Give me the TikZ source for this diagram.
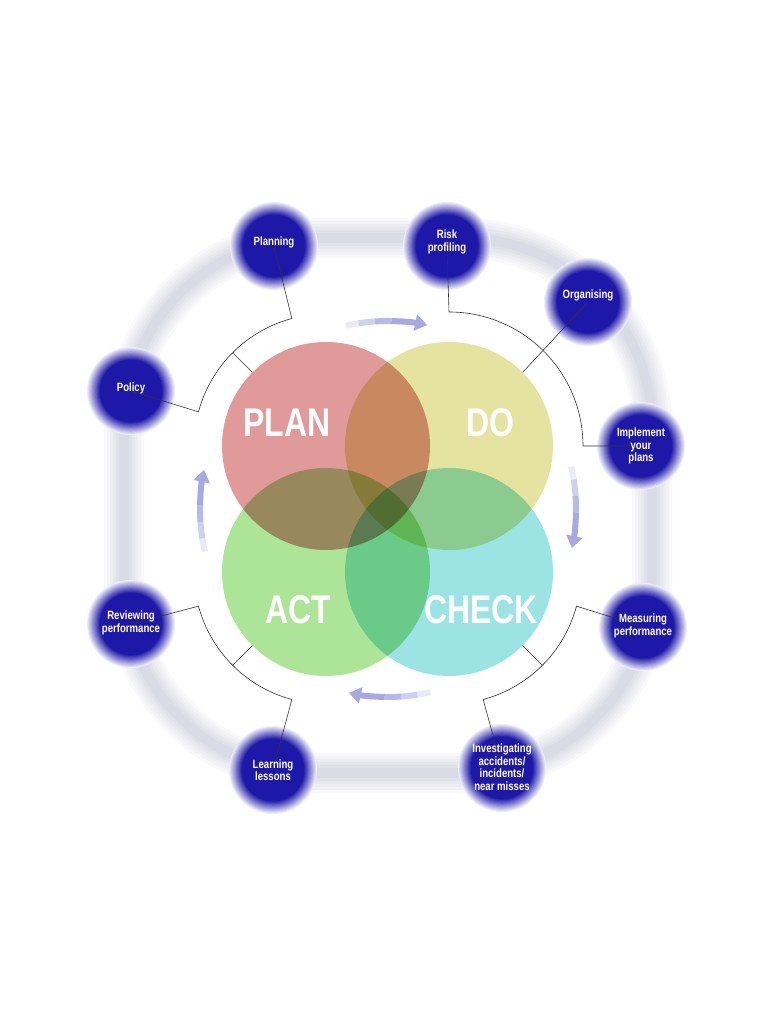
\documentclass[tikz,border=0pt]{standalone}
\usepackage{fontspec}
\setmainfont{Liberation Sans}
\newfontfamily\cond[FakeStretch=0.8]{Liberation Sans}
\usetikzlibrary{calc,arrows.meta}
\definecolor{bdark}{RGB}{28,22,168}
\definecolor{cplan}{RGB}{224,154,154}
\definecolor{cdo}{RGB}{228,228,160}
\definecolor{cact}{RGB}{172,228,152}
\definecolor{ccheck}{RGB}{156,228,228}
\definecolor{ring}{RGB}{205,205,220}
\definecolor{arr}{RGB}{168,168,228}
\tikzset{
  bubble/.style={circle,minimum size=86pt,inner sep=0pt,text=white,font=\cond\bfseries\fontsize{12}{12.5}\selectfont,align=center},
  big/.style={text=white,font=\cond\bfseries\fontsize{40}{40}\selectfont},
  conn/.style={draw=black!80,line width=0.6pt},
  cyc/.style={draw=arr,line width=6pt}
}
\begin{document}
\begin{tikzpicture}[x=1pt,y=1pt]
\useasboundingbox (0,0) rectangle (768,1024);
\fill[white] (0,0) rectangle (768,1024);
% ring
\foreach \w/\o in {40/0.1,34/0.12,28/0.15,22/0.18,16/0.2,10/0.25}{
  \draw[ring,line width=\w pt,opacity=\o,rounded corners=190pt] (124,251) rectangle (652,786);}
% circles
\coordinate (P) at (326,578);
\coordinate (D) at (449,578);
\coordinate (A) at (326,452);
\coordinate (C) at (449,452);
\begin{scope}[blend group=multiply]
\fill[cplan] (P) circle[radius=104];
\fill[cdo] (D) circle[radius=104];
\fill[cact] (A) circle[radius=104];
\fill[ccheck] (C) circle[radius=104];
\end{scope}
\node[big] (tplan) at (287,601) {PLAN};
\node[big] (tdo) at (490,601) {DO};
\node[big] (tact) at (298,414) {ACT};
\node[big] (tcheck) at (481,414) {CHECK};
% cycle arrows (fading tails)
\coordinate (O) at (388,515);
\foreach \s in {90,0,-90,180}{
  \draw[draw=arr!25!white,line width=6pt] ($(O)+(\s+13:188)$) arc[start angle=\s+13,end angle=\s+9,radius=188];
  \draw[draw=arr!55!white,line width=6pt] ($(O)+(\s+9:188)$) arc[start angle=\s+9,end angle=\s+4,radius=188];
  \draw[draw=arr!80!white,line width=6pt] ($(O)+(\s+4:188)$) arc[start angle=\s+4,end angle=\s-1,radius=188];
  \draw[cyc,-{Triangle[length=12pt,width=16pt]}] ($(O)+(\s-1:188)$) arc[start angle=\s-1,end angle=\s-12,radius=188];
}
% bubble halos
\foreach \x/\y in {274/778,447/778,588/722,131/633,641/578,131/400,643/397,273/254,502/256}{
  \fill[white!92!bdark] (\x,\y) circle[radius=44];
  \foreach \i in {1,...,12}{
    \pgfmathsetmacro\c{8+\i*7.6}
    \fill[bdark!\c!white] (\x,\y) circle[radius=44-\i*1.05];}
}
% bubbles
\node[bubble] (planning) at (274,778) {};
\node[bubble] (risk) at (447,778) {};
\node[bubble] (org) at (588,722) {};
\node[bubble] (policy) at (131,633) {};
\node[bubble] (impl) at (641,578) {};
\node[bubble] (review) at (131,400) {};
\node[bubble] (meas) at (643,397) {};
\node[bubble] (learn) at (273,254) {};
\node[bubble] (inv) at (502,256) {};
% connectors
\coordinate (tlA) at ($(P)+(165:132)$);
\coordinate (tlT) at ($(P)+(135:132)$);
\coordinate (tlC) at ($(P)+(135:104)$);
\draw[conn] (policy.center) -- (tlA) arc[start angle=165,end angle=105,radius=132] -- (planning.center);
\draw[conn] (tlT) -- (tlC);
\coordinate (trA) at ($(D)+(90:134)$);
\coordinate (trO) at ($(D)+(45:104)$);
\draw[conn] (risk.center) -- (trA) arc[start angle=90,end angle=0,radius=134] -- (impl.center);
\draw[conn] (org.center) -- (trO);
\coordinate (blA) at ($(A)+(195:132)$);
\coordinate (blT) at ($(A)+(225:132)$);
\coordinate (blC) at ($(A)+(225:104)$);
\draw[conn] (review.center) -- (blA) arc[start angle=195,end angle=255,radius=132] -- (learn.center);
\draw[conn] (blT) -- (blC);
\coordinate (brA) at ($(C)+(-15:132)$);
\coordinate (brT) at ($(C)+(-45:132)$);
\coordinate (brC) at ($(C)+(-45:104)$);
\draw[conn] (meas.center) -- (brA) arc[start angle=-15,end angle=-75,radius=132] -- (inv.center);
\draw[conn] (brT) -- (brC);
% bubble texts
\node[bubble,minimum size=0pt] at ($(planning)+(0,4)$) {Planning};
\node[bubble,minimum size=0pt] at ($(risk)+(0,4)$) {Risk\\profiling};
\node[bubble,minimum size=0pt] at ($(org)+(0,7)$) {Organising};
\node[bubble,minimum size=0pt] at ($(policy)+(0,3)$) {Policy};
\node[bubble,minimum size=0pt] at ($(impl)+(0,0)$) {Implement\\your\\plans};
\node[bubble,minimum size=0pt] at ($(review)+(0,1)$) {Reviewing\\performance};
\node[bubble,minimum size=0pt] at ($(meas)+(0,1)$) {Measuring\\performance};
\node[bubble,minimum size=0pt] at ($(learn)+(0,0)$) {Learning\\lessons};
\node[bubble,minimum size=0pt] at ($(inv)+(0,1)$) {Investigating\\accidents/\\incidents/\\near misses};
\end{tikzpicture}
\end{document}
